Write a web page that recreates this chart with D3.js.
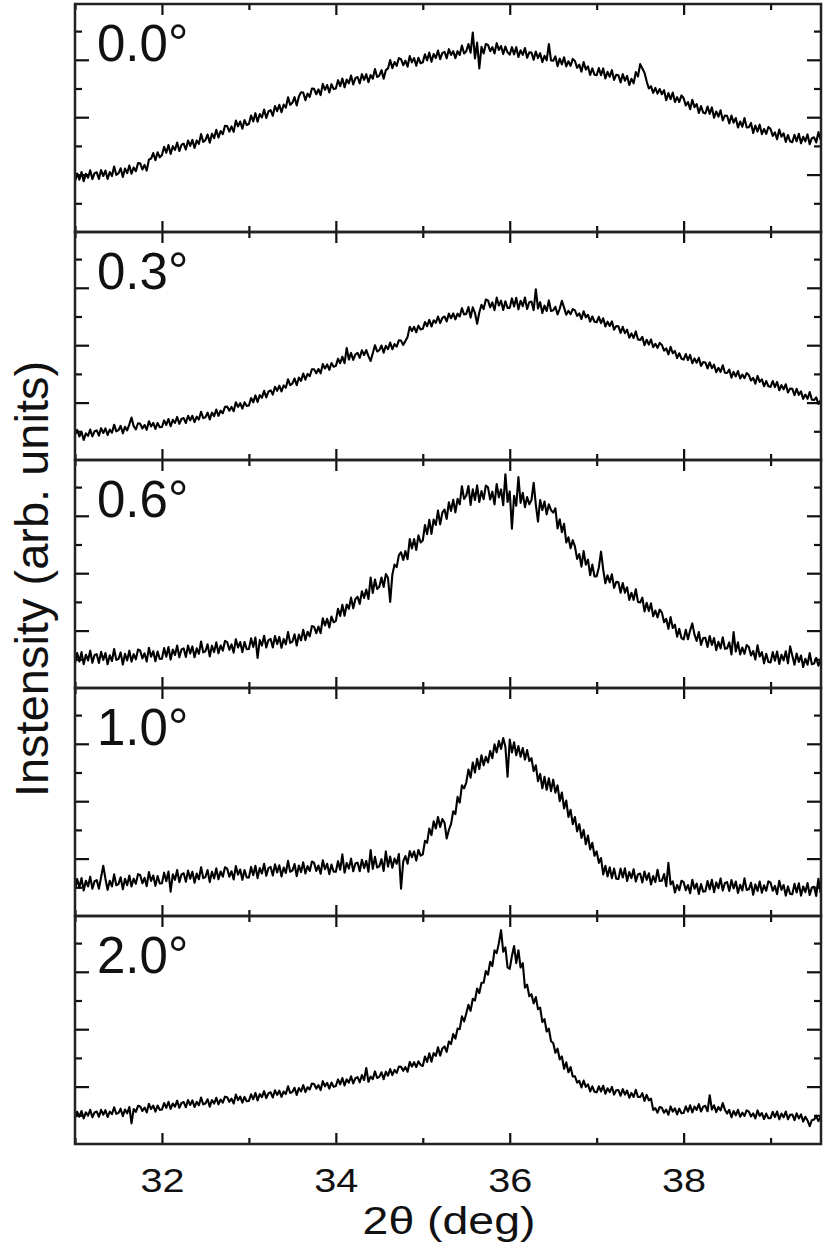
<!DOCTYPE html>
<html>
<head>
<meta charset="utf-8">
<script src="https://cdn.jsdelivr.net/npm/d3@7"></script>
<style>
body { margin: 0; background: #fff; }
text { font-family: "Liberation Sans", Arial, sans-serif; fill: #111; }
</style>
</head>
<body>
<svg id="chart" width="825" height="1251"></svg>
<script>
// tilt angle of each panel
var panel_labels = ['0.0°', '0.3°', '0.6°', '1.0°', '2.0°'];

// 2theta grid: 31.000 .. 39.600 deg, 0.025 deg step
var theta_start = 31.0;
var theta_step = 0.025;

// intensities (arb. units), 10 points = 0.25 deg per row
var int_00 = [
  1.76, 2.04, 1.82, 2.09, 1.77, 2.03, 1.89, 2.15, 1.84, 2.05,
  2.08, 1.85, 2.16, 1.95, 2.14, 1.85, 2.09, 1.95, 2.28, 1.99,
  2.04, 2.22, 1.92, 2.21, 2.05, 2.32, 2.03, 2.25, 2.12, 2.40,
  2.39, 2.18, 2.34, 2.14, 2.52, 2.56, 2.75, 2.50, 2.78, 2.60,
  2.68, 2.97, 2.76, 3.03, 2.72, 2.99, 2.86, 3.12, 2.82, 3.04,
  3.08, 2.87, 3.19, 3.00, 3.21, 2.93, 3.19, 3.07, 3.41, 3.14,
  3.20, 3.40, 3.11, 3.42, 3.27, 3.56, 3.29, 3.52, 3.41, 3.70,
  3.69, 3.50, 3.68, 3.49, 3.88, 3.68, 3.85, 3.60, 3.90, 3.73,
  3.76, 4.06, 3.85, 4.14, 3.84, 4.11, 3.99, 4.27, 3.97, 4.20,
  4.25, 4.05, 4.39, 4.21, 4.43, 4.17, 4.44, 4.33, 4.69, 4.43,
  4.50, 4.70, 4.41, 4.72, 4.87, 4.86, 4.59, 4.82, 4.71, 5.00,
  4.99, 4.80, 4.97, 4.77, 5.16, 4.95, 5.12, 4.86, 5.15, 4.98,
  5.00, 5.29, 5.08, 5.35, 5.04, 5.31, 5.18, 5.45, 5.14, 5.36,
  5.40, 5.18, 5.50, 5.30, 5.50, 5.22, 5.47, 5.34, 5.68, 5.40,
  5.45, 5.64, 5.34, 5.64, 5.70, 5.99, 5.71, 5.92, 5.79, 6.06,
  6.02, 5.81, 5.97, 5.76, 6.13, 5.91, 6.06, 5.79, 6.07, 5.88,
  5.91, 6.19, 5.98, 6.25, 5.93, 6.20, 6.06, 6.32, 6.02, 6.23,
  6.28, 6.05, 6.37, 6.17, 6.30, 6.06, 6.30, 6.17, 6.50, 6.22,
  6.30, 6.55, 6.25, 6.95, 6.05, 6.60, 5.70, 6.45, 6.22, 6.55,
  6.52, 6.30, 6.44, 6.22, 6.58, 6.34, 6.48, 6.20, 6.46, 6.26,
  6.18, 6.44, 6.19, 6.44, 6.10, 6.33, 6.17, 6.41, 6.07, 6.26,
  6.25, 6.00, 6.29, 6.06, 6.23, 5.92, 6.14, 5.98, 6.55, 5.98,
  5.97, 6.12, 5.78, 6.04, 5.84, 6.09, 5.77, 5.95, 5.79, 6.03,
  5.96, 5.72, 5.83, 5.59, 5.92, 5.66, 5.77, 5.47, 5.70, 5.48,
  5.46, 5.71, 5.46, 5.70, 5.35, 5.58, 5.41, 5.64, 5.30, 5.48,
  5.46, 5.21, 5.50, 5.27, 5.44, 5.12, 5.34, 5.18, 5.57, 5.42,
  5.85, 5.70, 5.55, 5.25, 5.00, 5.08, 4.85, 5.02, 4.82, 4.98,
  4.80, 4.94, 4.59, 4.84, 4.63, 4.86, 4.53, 4.70, 4.53, 4.76,
  4.66, 4.41, 4.53, 4.28, 4.61, 4.35, 4.46, 4.15, 4.39, 4.16,
  4.13, 4.37, 4.11, 4.34, 3.98, 4.20, 4.02, 4.24, 3.89, 4.06,
  4.05, 3.78, 4.06, 3.81, 3.97, 3.64, 3.85, 3.67, 3.97, 3.64,
  3.65, 3.80, 3.45, 3.71, 3.50, 3.74, 3.41, 3.59, 3.42, 3.66,
  3.59, 3.35, 3.47, 3.23, 3.57, 3.32, 3.44, 3.14, 3.38, 3.16,
  3.13, 3.39, 3.16, 3.42, 3.09, 3.32, 3.16, 3.40, 3.06, 3.27,
  3.30, 3.12, 3.48, 3.22, 3.50
];
var int_03 = [
  0.88, 1.05, 0.82, 0.98, 0.70, 0.93, 0.84, 1.06, 0.82, 1.00,
  1.03, 0.85, 1.11, 0.94, 1.10, 0.87, 1.06, 0.95, 1.23, 1.00,
  1.04, 1.19, 0.93, 1.16, 1.03, 1.24, 1.48, 1.18, 1.07, 1.28,
  1.26, 1.10, 1.22, 1.05, 1.35, 1.17, 1.29, 1.08, 1.29, 1.14,
  1.15, 1.38, 1.22, 1.43, 1.18, 1.40, 1.29, 1.50, 1.26, 1.43,
  1.46, 1.29, 1.54, 1.38, 1.54, 1.32, 1.51, 1.41, 1.68, 1.46,
  1.49, 1.65, 1.41, 1.65, 1.53, 1.76, 1.54, 1.72, 1.63, 1.85,
  1.86, 1.72, 1.85, 1.70, 2.01, 1.85, 1.98, 1.79, 2.01, 1.88,
  1.90, 2.16, 2.01, 2.25, 2.02, 2.26, 2.17, 2.41, 2.18, 2.38,
  2.43, 2.28, 2.55, 2.41, 2.59, 2.39, 2.60, 2.52, 2.81, 2.61,
  2.66, 2.84, 2.61, 2.87, 2.76, 3.01, 2.80, 3.00, 2.92, 3.16,
  3.16, 3.02, 3.17, 3.02, 3.34, 3.19, 3.33, 3.14, 3.38, 3.25,
  3.28, 3.53, 3.37, 3.60, 3.37, 3.90, 3.50, 3.73, 3.49, 3.68,
  3.73, 3.56, 3.82, 3.66, 3.83, 3.62, 3.45, 3.72, 4.00, 3.78,
  3.83, 3.99, 3.74, 3.98, 3.86, 4.09, 3.86, 4.04, 3.95, 4.17,
  4.16, 4.01, 4.15, 4.29, 4.64, 4.49, 4.64, 4.45, 4.68, 4.55,
  4.57, 4.81, 4.66, 4.88, 4.65, 4.87, 4.78, 5.00, 4.77, 4.95,
  5.00, 4.83, 5.10, 4.94, 5.11, 4.90, 5.10, 5.00, 5.29, 5.07,
  5.09, 5.33, 4.96, 5.32, 5.13, 4.75, 5.14, 5.41, 5.26, 5.59,
  5.56, 5.32, 5.49, 5.22, 5.66, 5.38, 5.55, 5.23, 5.53, 5.30,
  5.30, 5.63, 5.35, 5.65, 5.25, 5.55, 5.36, 5.66, 5.26, 5.50,
  5.52, 5.22, 5.95, 5.28, 5.50, 5.12, 5.38, 5.19, 5.56, 5.19,
  5.22, 5.34, 5.07, 5.27, 5.55, 5.31, 5.06, 5.20, 5.08, 5.26,
  5.21, 5.02, 5.11, 4.91, 5.18, 4.97, 5.06, 4.82, 5.00, 4.82,
  4.80, 4.99, 4.77, 4.94, 4.65, 4.82, 4.67, 4.83, 4.54, 4.67,
  4.66, 4.43, 4.64, 4.42, 4.54, 4.26, 4.41, 4.25, 4.48, 4.20,
  4.18, 4.29, 4.00, 4.19, 4.02, 4.20, 3.93, 4.05, 3.91, 4.08,
  4.01, 3.81, 3.89, 3.68, 3.94, 3.72, 3.80, 3.55, 3.72, 3.53,
  3.50, 3.69, 3.48, 3.66, 3.37, 3.54, 3.39, 3.56, 3.28, 3.41,
  3.40, 3.19, 3.40, 3.20, 3.32, 3.06, 3.21, 3.07, 3.30, 3.04,
  3.03, 3.15, 2.87, 3.07, 2.91, 3.10, 2.84, 2.98, 2.85, 3.03,
  2.96, 2.77, 2.86, 2.66, 2.93, 2.72, 2.81, 2.57, 2.75, 2.57,
  2.55, 2.75, 2.54, 2.72, 2.43, 2.61, 2.46, 2.64, 2.35, 2.49,
  2.48, 2.26, 2.48, 2.27, 2.39, 2.13, 2.28, 2.13, 2.37, 2.10,
  2.09, 2.18, 1.95, 2.08, 1.98
];
var int_06 = [
  0.86, 1.22, 0.92, 1.25, 0.83, 1.16, 0.96, 1.30, 0.88, 1.15,
  1.18, 0.87, 1.26, 0.98, 1.22, 0.83, 1.14, 0.94, 1.36, 0.98,
  1.01, 1.24, 0.82, 1.19, 0.96, 1.30, 0.92, 1.18, 1.00, 1.34,
  1.30, 1.03, 1.21, 0.92, 1.40, 1.09, 1.28, 0.93, 1.27, 1.01,
  1.02, 1.39, 1.09, 1.43, 0.99, 1.34, 1.15, 1.48, 1.07, 1.34,
  1.38, 1.08, 1.48, 1.20, 1.45, 1.07, 1.38, 1.19, 1.62, 1.24,
  1.28, 1.52, 1.10, 1.47, 1.25, 1.59, 1.21, 1.48, 1.30, 1.64,
  1.60, 1.33, 1.52, 1.23, 1.70, 1.41, 1.60, 1.25, 1.60, 1.35,
  1.36, 1.73, 1.43, 1.76, 1.05, 1.67, 1.48, 1.82, 1.41, 1.67,
  1.71, 1.41, 1.81, 1.53, 1.78, 1.40, 1.71, 1.52, 1.95, 1.57,
  1.61, 1.87, 1.48, 1.86, 1.66, 2.03, 1.67, 1.96, 1.80, 2.16,
  2.13, 1.91, 2.14, 1.91, 2.43, 2.18, 2.41, 2.11, 2.49, 2.29,
  2.34, 2.76, 2.51, 2.90, 2.52, 2.91, 2.76, 3.15, 2.78, 3.10,
  3.18, 2.93, 3.37, 3.14, 3.43, 3.10, 3.85, 3.31, 3.78, 3.45,
  3.53, 3.85, 3.52, 3.97, 3.83, 3.00, 3.95, 4.30, 4.21, 4.63,
  4.73, 4.46, 4.77, 4.49, 5.19, 4.86, 5.19, 4.81, 5.32, 5.07,
  5.14, 5.68, 5.36, 5.86, 5.37, 5.87, 5.68, 6.18, 5.70, 6.11,
  6.22, 5.89, 6.47, 6.17, 6.56, 6.12, 6.59, 6.40, 7.03, 6.59,
  6.70, 7.04, 6.38, 6.92, 6.55, 7.06, 6.48, 6.86, 6.58, 7.05,
  6.99, 6.57, 6.84, 6.40, 7.11, 6.64, 6.92, 6.37, 7.45, 6.48,
  6.85, 5.55, 6.70, 6.35, 7.35, 6.45, 6.80, 6.30, 6.65, 6.40,
  6.55, 7.15, 6.40, 5.80, 6.55, 6.20, 6.50, 6.05, 6.40, 6.20,
  6.11, 6.26, 5.56, 5.88, 5.43, 5.72, 5.07, 5.25, 4.87, 5.15,
  4.93, 4.50, 4.67, 4.23, 4.77, 4.30, 4.47, 3.93, 4.30, 3.89,
  3.89, 4.20, 4.75, 4.13, 3.65, 3.93, 3.68, 3.96, 3.49, 3.70,
  3.68, 3.32, 3.66, 3.32, 3.51, 3.07, 3.32, 3.07, 3.44, 3.00,
  2.98, 3.15, 2.67, 2.97, 2.68, 2.95, 2.50, 2.70, 2.46, 2.73,
  2.63, 2.29, 2.41, 2.06, 2.47, 2.09, 2.21, 1.79, 2.06, 1.74,
  1.69, 2.03, 1.70, 2.01, 2.25, 1.86, 1.64, 1.95, 1.50, 1.74,
  1.75, 1.43, 1.81, 1.50, 1.74, 1.32, 1.61, 1.38, 1.77, 1.37,
  1.38, 1.59, 1.17, 1.95, 1.27, 1.59, 1.17, 1.41, 1.19, 1.50,
  1.43, 1.13, 1.29, 0.99, 1.49, 1.10, 1.25, 0.86, 1.19, 0.91,
  0.89, 1.25, 0.95, 1.27, 0.84, 1.16, 0.96, 1.28, 0.86, 1.45,
  1.13, 0.81, 1.20, 0.91, 1.13, 0.73, 1.02, 0.81, 1.22, 0.83,
  0.85, 1.05, 0.78, 0.98, 0.88
];
var int_10 = [
  0.92, 1.29, 0.99, 1.32, 0.89, 1.23, 1.03, 1.37, 0.95, 1.21,
  1.25, 0.95, 1.35, 1.75, 1.30, 0.91, 1.23, 1.03, 1.45, 1.07,
  1.11, 1.35, 0.93, 1.30, 1.07, 1.41, 1.03, 1.30, 1.12, 1.46,
  1.42, 1.14, 1.33, 1.04, 1.53, 1.22, 1.41, 1.05, 1.39, 1.13,
  1.14, 1.51, 1.21, 1.55, 0.85, 1.45, 1.26, 1.60, 1.18, 1.45,
  1.49, 1.19, 1.58, 1.30, 1.54, 1.16, 1.48, 1.28, 1.70, 1.32,
  1.36, 1.60, 1.18, 1.54, 1.31, 1.66, 1.28, 1.55, 1.37, 1.70,
  1.65, 1.37, 1.56, 1.27, 1.74, 1.44, 1.62, 1.26, 1.60, 1.34,
  1.34, 1.71, 1.42, 1.75, 1.32, 1.67, 1.48, 1.82, 1.40, 1.67,
  1.71, 1.41, 1.80, 1.52, 1.77, 1.38, 1.69, 1.50, 1.92, 1.54,
  1.58, 1.81, 1.39, 1.76, 1.53, 1.87, 1.48, 1.74, 1.57, 1.90,
  1.85, 1.57, 1.76, 1.47, 1.94, 1.63, 1.82, 1.46, 1.79, 1.54,
  1.54, 1.91, 1.61, 2.15, 1.51, 1.85, 1.65, 2.00, 1.56, 1.83,
  1.86, 1.56, 1.96, 1.67, 1.92, 1.54, 2.30, 1.64, 2.06, 1.69,
  1.73, 1.98, 1.57, 2.25, 1.72, 2.07, 1.68, 2.00, 1.82, 2.16,
  0.95, 1.90, 2.09, 1.82, 2.26, 2.05, 2.25, 1.93, 2.30, 2.10,
  2.15, 2.62, 2.55, 3.05, 2.82, 3.30, 3.05, 3.45, 3.10, 3.38,
  3.25, 2.70, 3.00, 3.20, 3.65, 3.55, 4.15, 3.95, 4.55, 4.45,
  4.65, 5.10, 4.82, 5.35, 5.00, 5.48, 5.12, 5.60, 5.25, 5.55,
  5.35, 5.75, 5.50, 5.98, 5.70, 6.10, 5.82, 6.20, 5.90, 4.85,
  6.15, 5.70, 6.05, 5.60, 5.92, 5.55, 5.85, 5.45, 5.78, 5.40,
  5.50, 5.05, 5.25, 4.70, 4.95, 4.45, 4.85, 4.40, 4.80, 4.35,
  4.75, 4.30, 4.55, 4.00, 4.30, 3.75, 4.02, 3.45, 3.70, 3.20,
  3.45, 2.95, 3.20, 2.72, 3.00, 2.50, 2.80, 2.32, 2.55, 2.10,
  2.25, 1.85, 2.02, 1.45, 1.75, 1.38, 1.70, 1.32, 1.65, 1.30,
  1.29, 1.65, 1.34, 1.66, 1.22, 1.53, 1.32, 1.63, 1.20, 1.45,
  1.48, 1.17, 1.55, 1.26, 1.49, 1.10, 1.39, 1.18, 1.61, 1.22,
  1.23, 1.46, 1.04, 1.85, 1.10, 1.21, 0.82, 1.08, 0.90, 1.23,
  1.18, 0.90, 1.08, 0.79, 1.26, 0.95, 1.13, 0.77, 1.11, 0.85,
  0.86, 1.22, 0.93, 1.26, 0.83, 1.17, 0.97, 1.31, 0.89, 1.15,
  1.18, 0.87, 1.25, 0.96, 1.20, 0.80, 1.09, 0.89, 1.31, 0.91,
  0.93, 1.16, 0.74, 1.10, 0.87, 1.20, 0.81, 1.07, 0.88, 1.21,
  1.16, 0.88, 1.05, 0.76, 1.23, 0.91, 1.08, 0.71, 1.03, 0.77,
  0.76, 1.12, 0.82, 1.14, 0.71, 1.03, 0.83, 1.15, 0.73, 0.99,
  1.02, 0.70, 1.30, 0.82, 1.05
];
var int_20 = [
  0.90, 1.12, 0.95, 1.15, 0.89, 1.10, 0.99, 1.19, 0.93, 1.10,
  1.13, 0.95, 1.19, 1.02, 1.18, 0.94, 1.13, 1.04, 1.28, 1.05,
  1.08, 1.23, 0.97, 1.20, 1.07, 1.29, 0.72, 1.22, 1.12, 1.33,
  1.31, 1.15, 1.27, 1.10, 1.40, 1.22, 1.34, 1.13, 1.34, 1.19,
  1.20, 1.43, 1.26, 1.47, 1.22, 1.41, 1.30, 1.51, 1.26, 1.43,
  1.46, 1.28, 1.53, 1.36, 1.52, 1.29, 1.47, 1.35, 1.62, 1.38,
  1.41, 1.56, 1.30, 1.53, 1.41, 1.61, 1.38, 1.55, 1.44, 1.65,
  1.63, 1.47, 1.58, 1.41, 1.72, 1.53, 1.65, 1.44, 1.64, 1.49,
  1.50, 1.73, 1.56, 1.78, 1.52, 1.74, 1.63, 1.84, 1.60, 1.77,
  1.80, 1.62, 1.87, 1.71, 1.86, 1.64, 1.83, 1.74, 2.01, 1.78,
  1.81, 1.96, 1.71, 1.95, 1.83, 2.05, 1.81, 1.98, 1.90, 2.11,
  2.09, 1.93, 2.05, 1.88, 2.19, 2.01, 2.13, 1.93, 2.14, 1.99,
  2.02, 2.25, 2.08, 2.30, 2.04, 2.25, 2.14, 2.36, 2.11, 2.29,
  2.33, 2.15, 2.40, 2.23, 2.65, 2.17, 2.35, 2.26, 2.53, 2.30,
  2.34, 2.50, 2.26, 2.52, 2.38, 2.61, 2.40, 2.58, 2.48, 2.70,
  2.69, 2.55, 2.68, 2.52, 2.86, 2.70, 2.85, 2.68, 2.88, 2.75,
  2.72, 3.05, 2.86, 3.16, 2.87, 3.17, 3.07, 3.37, 3.08, 3.33,
  3.40, 3.21, 3.57, 3.48, 3.83, 3.67, 4.02, 4.00, 4.45, 4.27,
  4.55, 4.85, 4.64, 5.06, 5.00, 5.42, 5.26, 5.62, 5.62, 6.03,
  5.90, 6.35, 6.20, 6.75, 6.65, 7.00, 7.45, 6.70, 6.85, 6.15,
  6.10, 6.55, 6.90, 6.30, 6.75, 6.15, 6.30, 5.45, 5.55, 5.15,
  5.22, 4.90, 5.12, 4.70, 4.75, 4.25, 4.35, 3.92, 4.02, 3.58,
  3.52, 3.18, 3.32, 2.95, 3.05, 2.62, 2.85, 2.50, 2.68, 2.35,
  2.36, 2.14, 2.20, 1.97, 2.21, 1.99, 2.08, 1.83, 2.01, 1.82,
  1.80, 2.01, 1.83, 2.03, 1.75, 1.94, 1.81, 1.99, 1.72, 1.87,
  1.88, 1.68, 1.91, 1.72, 1.86, 1.61, 1.78, 1.64, 1.89, 1.64,
  1.64, 1.77, 1.50, 1.71, 1.52, 1.58, 1.19, 1.25, 1.09, 1.29,
  1.26, 1.09, 1.20, 1.02, 1.31, 1.13, 1.24, 1.03, 1.23, 1.07,
  1.08, 1.31, 1.13, 1.35, 1.10, 1.30, 1.19, 1.39, 1.13, 1.30,
  1.33, 1.14, 1.70, 1.20, 1.35, 1.11, 1.29, 1.17, 1.43, 1.19,
  1.06, 1.19, 0.93, 1.15, 1.00, 1.19, 0.95, 1.09, 0.98, 1.17,
  1.13, 0.96, 1.07, 0.89, 1.17, 0.98, 1.08, 0.87, 1.06, 0.90,
  0.90, 1.12, 0.94, 1.13, 0.86, 1.06, 0.93, 1.13, 0.86, 1.02,
  1.03, 0.83, 1.07, 0.89, 1.03, 0.78, 0.95, 0.82, 0.62, 0.83,
  0.85, 0.98, 0.80, 0.95, 0.90
];

var x_major = [32, 34, 36, 38];
var x_minor = [31, 33, 35, 37, 39];
var y_major = [2, 4, 6];
var y_minor = [1, 3, 5, 7];

var series = [int_00, int_03, int_06, int_10, int_20];
var two_theta = d3.range(int_00.length).map(function(i){ return +(theta_start + i*theta_step).toFixed(3); });

var left = 75, right = 821, top0 = 4, panel_h = 228;
var unit_px = 28.7;

var svg = d3.select('#chart');
var x_scale = d3.scaleLinear().domain([31, 39.58]).range([left, right]);

svg.append('defs').append('clipPath').attr('id', 'plot_clip')
   .append('rect').attr('x', left).attr('y', top0).attr('width', right-left).attr('height', panel_h*5);

series.forEach(function(vals, k){
    var top = top0 + k*panel_h, bottom = top + panel_h;
    var y_scale = d3.scaleLinear().domain([0, panel_h/unit_px]).range([bottom, top]);
    var g = svg.append('g').attr('class', 'panel');

    var tick_axis = function(axis, tv, size, tr){
        g.append('g').attr('transform', tr)
         .call(axis.tickValues(tv).tickSize(-size).tickFormat(''))
         .call(function(a){ a.select('.domain').remove(); })
         .selectAll('line').attr('stroke', '#111').attr('stroke-width', 2.2);
    };
    tick_axis(d3.axisBottom(x_scale), x_major, 11, 'translate(0,' + bottom + ')');
    tick_axis(d3.axisBottom(x_scale), x_minor, 6, 'translate(0,' + bottom + ')');
    tick_axis(d3.axisTop(x_scale), x_major, 11, 'translate(0,' + top + ')');
    tick_axis(d3.axisTop(x_scale), x_minor, 6, 'translate(0,' + top + ')');
    tick_axis(d3.axisLeft(y_scale), y_major, 14, 'translate(' + left + ',0)');
    tick_axis(d3.axisLeft(y_scale), y_minor, 7, 'translate(' + left + ',0)');
    tick_axis(d3.axisRight(y_scale), y_major, 14, 'translate(' + right + ',0)');
    tick_axis(d3.axisRight(y_scale), y_minor, 7, 'translate(' + right + ',0)');

    g.append('path').datum(vals)
     .attr('clip-path', 'url(#plot_clip)')
     .attr('fill', 'none').attr('stroke', '#000').attr('stroke-width', 2.1)
     .attr('stroke-linejoin', 'round')
     .attr('d', d3.line().x(function(d, i){ return x_scale(two_theta[i]); }).y(function(d){ return y_scale(d); }));

    g.append('rect').attr('x', left).attr('y', top).attr('width', right-left).attr('height', panel_h)
     .attr('fill', 'none').attr('stroke', '#222').attr('stroke-width', 2.5);

    g.append('text').attr('x', 97).attr('y', top + 57)
     .style('font-size', '51px').text(panel_labels[k]);
});

// tick labels on the bottom panel only
var bottom_edge = top0 + 5*panel_h;
svg.append('g').attr('class', 'x_axis').attr('transform', 'translate(0,' + bottom_edge + ')')
   .call(d3.axisBottom(x_scale).tickValues(x_major).tickSize(0).tickFormat(d3.format('d')))
   .call(function(a){ a.select('.domain').remove(); })
   .selectAll('text')
   .attr('y', 48).attr('dy', 0)
   .attr('transform', 'scale(1.2,1)')
   .style('font-size', '33px').style('font-family', '"Liberation Sans", Arial, sans-serif').attr('fill', '#111');

svg.append('text').attr('transform', 'translate(449,1234) scale(1.19,1)')
   .attr('text-anchor', 'middle').style('font-size', '39px').text('2θ (deg)');

svg.append('text').attr('transform', 'translate(48,579) rotate(-90)')
   .attr('text-anchor', 'middle').style('font-size', '47px').text('Instensity (arb. units)');
</script>
</body>
</html>
